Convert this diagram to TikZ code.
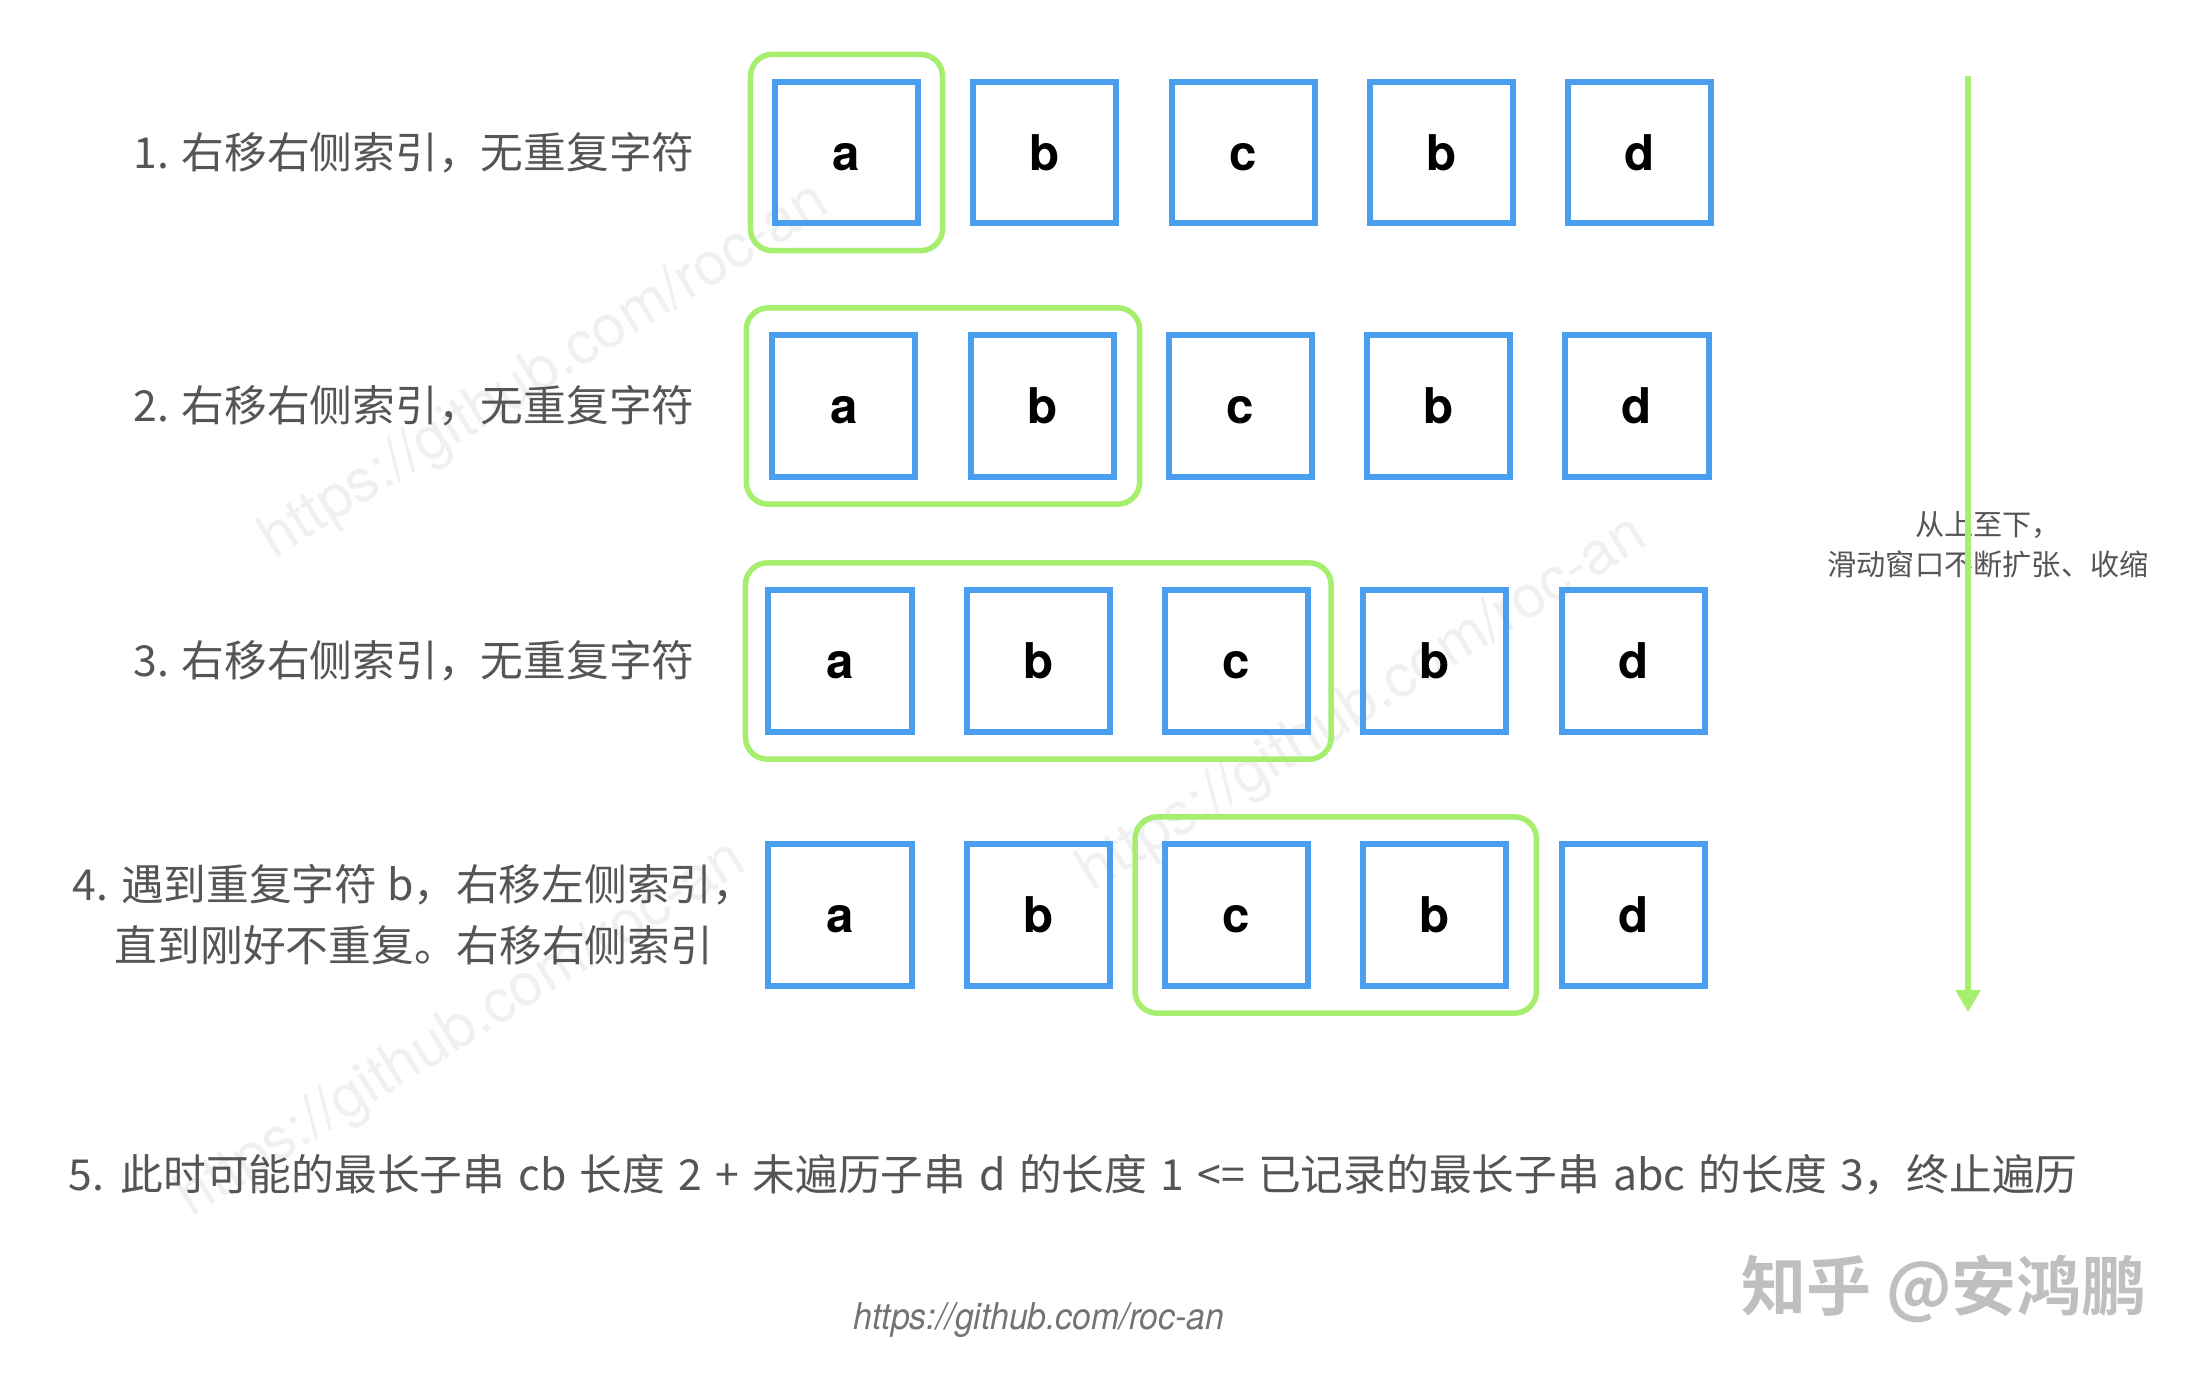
\documentclass[tikz,border=0pt]{standalone}
\usepackage{fontspec}
\setmainfont{TeX Gyre Heros}
\newfontfamily\cjk{Noto Sans CJK SC}[BoldFont={Noto Sans CJK SC Bold}]
\usetikzlibrary{arrows.meta,fit}
\definecolor{cellblue}{RGB}{74,158,240}
\definecolor{wingreen}{RGB}{166,238,110}
\definecolor{labelgray}{RGB}{85,85,85}
\begin{document}
\begin{tikzpicture}[x=0.01cm,y=-0.01cm,
  cell/.style={draw=cellblue,line width=0.06cm,minimum width=1.43cm,minimum height=1.41cm,
    inner sep=0pt,font=\fontsize{14}{14}\selectfont\bfseries,text height=0.355cm,text depth=0cm},
  window/.style={draw=wingreen,line width=0.055cm,rounded corners=0.22cm,inner ysep=0.246cm},
  lab/.style={font=\cjk\fontsize{12.15}{17.4}\selectfont,text=labelgray,inner sep=0pt,align=center},
  note/.style={font=\cjk\fontsize{8.3}{11.4}\selectfont,text=labelgray,inner sep=0pt,align=center},
  wmark/.style={font=\fontsize{17}{18}\selectfont,text=black!6,inner sep=0pt,rotate=32}
]
\fill[white] (0,0) rectangle (2204,1378);
\useasboundingbox (0,0) rectangle (2204,1378);

% faint watermarks
\node[wmark] (wm1) at (545,372) {https://github.com/roc-an};
\node[wmark] (wm2) at (1363,705) {https://github.com/roc-an};
\node[wmark] (wm3) at (462,1030) {https://github.com/roc-an};

% cells
\foreach \r/\y/\x in {1/152.5/846.5,2/406/843.8,3/661/840,4/915/840}{
  \foreach \i/\n/\t in {0/a/a,1/b/b,2/c/c,3/d/b,4/e/d}{
    \node[cell] (r\r\n) at ({\x+198.3*\i},\y) {\t};
  }
}

% sliding windows
\node[window,inner xsep=0.215cm,fit=(r1a)] (w1) {};
\node[window,inner xsep=0.23cm,fit=(r2a)(r2b)] (w2) {};
\node[window,inner xsep=0.20cm,fit=(r3a)(r3c)] (w3) {};
\node[window,inner xsep=0.27cm,fit=(r4c)(r4d)] (w4) {};

% step labels
\node[lab] (l1) at (414,153) {1. 右移右侧索引，无重复字符};
\node[lab] (l2) at (414,406) {2. 右移右侧索引，无重复字符};
\node[lab] (l3) at (414,661) {3. 右移右侧索引，无重复字符};
\node[lab] (l4) at (414,915) {4. 遇到重复字符 b，右移左侧索引，\\直到刚好不重复。右移右侧索引};
\node[lab,anchor=west] (l5) at (68,1175) {\spaceskip=0.31em\relax 5. 此时可能的最长子串 cb 长度 2 + 未遍历子串 d 的长度 1 <= 已记录的最长子串 abc 的长度 3，终止遍历};

% direction note and arrow
\node[note] (nt) at (1988,545) {从上至下，\\滑动窗口不断扩张、收缩};
\coordinate (atop) at (1968,76);
\coordinate (abot) at (1968,1012);
\draw[wingreen,line width=0.06cm,-{Triangle[width=0.24cm,length=0.22cm]}] (atop) -- (abot);

% footer
\node[font=\fontsize{10.5}{12}\selectfont\itshape,text=black!55,inner sep=0pt,xscale=0.915] (url) at (1039,1320) {https://github.com/roc-an};
\node[font=\cjk\bfseries\fontsize{18.5}{20}\selectfont,text=black!25,inner sep=0pt] (zh) at (1944,1289) {知乎 @安鸿鹏};
\end{tikzpicture}
\end{document}
